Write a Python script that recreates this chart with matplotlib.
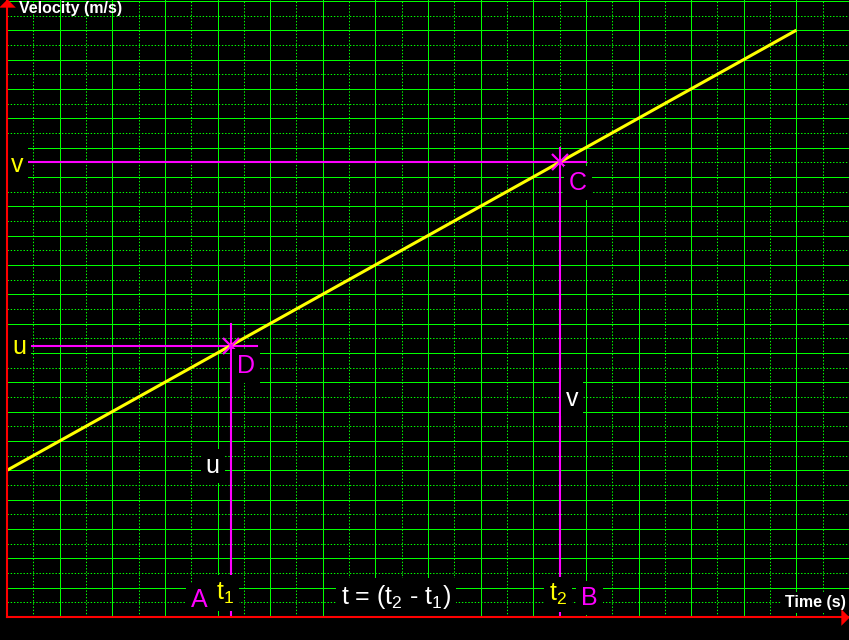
"""
Velocity-time graph: uniform acceleration, with the points C and D marked.
"""

import matplotlib
matplotlib.use("Agg")
import matplotlib.pyplot as plt
from matplotlib.ticker import MultipleLocator, NullFormatter

# grid units: one small square = 1 unit on each axis
line_t = [0, 30]
line_v = [10, 40]

point_names = ["D", "C"]
point_t = [8.5, 21]
point_v = [18.5, 31]
# how far the guide lines run past each point (up, right)
guide_up = [1.5, 1]
guide_right = [1, 1]

# labels: (text, x, baseline y, colour)
labels = [
    ("v", 0.38, 30.35, "yellow"),
    ("u", 0.46, 17.93, "yellow"),
    ("C", 21.7, 29.1, "magenta"),
    ("D", 9.08, 16.63, "magenta"),
    ("v", 21.48, 14.38, "white"),
    ("u", 7.82, 9.82, "white"),
    ("A", 7.31, 0.68, "magenta"),
    ("B", 22.14, 0.82, "magenta"),
    ("t$_1$", 8.3, 1.2, "yellow"),
    ("t$_2$", 20.95, 1.09, "yellow"),
    ("t = (t$_2$ - t$_1$)", 14.79, 0.87, "white"),
]

plt.rcParams["font.family"] = ["Liberation Sans", "DejaVu Sans"]
plt.rcParams["mathtext.fontset"] = "custom"
plt.rcParams["mathtext.rm"] = "Liberation Sans"
plt.rcParams["mathtext.default"] = "regular"

fig = plt.figure(figsize=(8.49, 6.4), dpi=100, facecolor="black")
ax = fig.add_axes([7 / 849, 23 / 640, 842 / 849, 617 / 640])
ax.set_facecolor("black")
ax.set_xlim(0, 32)
ax.set_ylim(0, 617 / 14.67)

ax.xaxis.set_major_locator(MultipleLocator(2))
ax.xaxis.set_minor_locator(MultipleLocator(1))
ax.yaxis.set_major_locator(MultipleLocator(2))
ax.yaxis.set_minor_locator(MultipleLocator(1))
ax.xaxis.set_major_formatter(NullFormatter())
ax.yaxis.set_major_formatter(NullFormatter())
ax.tick_params(which="both", length=0)
ax.grid(which="major", color="#00ff00", lw=0.72, zorder=0)
ax.grid(which="minor", color="#00ff00", lw=0.72, ls=(0, (1.4, 1.8)), zorder=0)
ax.set_axisbelow(True)

for side in ["top", "right"]:
    ax.spines[side].set_visible(False)
for side in ["left", "bottom"]:
    ax.spines[side].set_color("red")
    ax.spines[side].set_linewidth(1.5)
    ax.spines[side].set_zorder(6)

# arrow heads on the axes
up_head = [(-1, -0.5), (0, 0.5), (1, -0.5), (-1, -0.5)]
right_head = [(-0.5, -1), (0.5, 0), (-0.5, 1), (-0.5, -1)]
ax.plot(0, 1 - 3 / 617, marker=up_head, ms=12, color="red", mew=0,
        transform=ax.transAxes, clip_on=False, zorder=7)
ax.plot(1 - 4 / 842, 0, marker=right_head, ms=12, color="red", mew=0,
        transform=ax.transAxes, clip_on=False, zorder=7)

# guide lines from the points to the axes
for t, v, up, right in zip(point_t, point_v, guide_up, guide_right):
    ax.plot([t, t], [0, v + up], color="magenta", lw=1.5, zorder=2)
    ax.plot([0, t + right], [v, v], color="magenta", lw=1.5, zorder=2)

ax.plot(line_t, line_v, color="yellow", lw=2.2, zorder=3, solid_capstyle="butt")
ax.plot(point_t, point_v, "x", color="magenta", ms=11, mew=1.6, zorder=4)

box = dict(boxstyle="square,pad=0.2", facecolor="black", edgecolor="none")
for text, x, y, colour in labels:
    ax.text(x, y, text, color=colour, fontsize=18, ha="center", va="baseline",
            bbox=box, zorder=5)

ax.text(0.45, 41.19, "Velocity (m/s)", color="white", fontsize=11.5,
        fontweight="bold", ha="left", va="baseline", zorder=5)
ax.text(30.71, 0.7, "Time (s)", color="white", fontsize=11.5,
        fontweight="bold", ha="center", va="baseline", bbox=box, zorder=5)

fig.savefig("out.png", dpi=100, facecolor="black")
